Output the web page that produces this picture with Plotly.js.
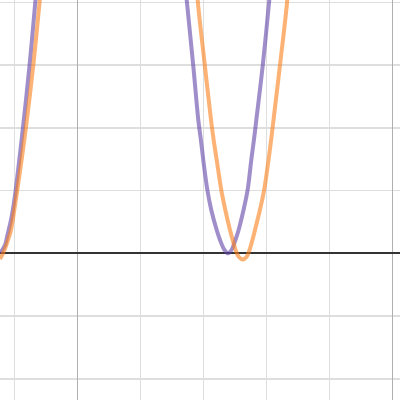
<!DOCTYPE html>
<html>
<head>
<meta charset="utf-8">
<script src="https://cdn.plot.ly/plotly-3.0.1.min.js"></script>
<style>html,body{margin:0;padding:0;background:#fff;}#chart{width:400px;height:400px;}</style>
</head>
<body>
<div id="chart"></div>
<script>
// Purple curve
const purpleX = [-1.232, -1.152, -1.113, -1.057, -1.016, -0.982, -0.866, -0.762, -0.668, -0.612, null,
                 1.676, 1.733, 1.836, 1.917, 1.958, 1.996, 2.061, 2.123, 2.209, 2.262, 2.333, 2.389,
                 2.444, 2.506, 2.557, 2.635, 2.700, 2.758, 2.800, 2.838, 2.941, 3.044, 3.101];
const purpleY = [0.0, 0.133, 0.292, 0.531, 0.770, 1.009, 2.014, 3.002, 4.038, 4.676, null,
                 4.676, 4.038, 3.002, 2.125, 1.806, 1.488, 1.009, 0.691, 0.372, 0.212, 0.053, 0.0,
                 0.053, 0.212, 0.372, 0.691, 1.009, 1.488, 1.806, 2.125, 3.002, 4.038, 4.676];
// Orange curve
const orangeX = [-1.232, -1.160, -1.105, -1.057, -1.005, -0.957, -0.819, -0.703, -0.600, -0.544, null,
                 1.865, 1.907, 2.020, 2.119, 2.161, 2.209, 2.282, 2.346, 2.420, 2.463, 2.509, 2.562, 2.622,
                 2.682, 2.730, 2.776, 2.817, 2.895, 2.962, 3.032, 3.073, 3.111, 3.214, 3.330, 3.373];
const orangeY = [-0.091, 0.053, 0.212, 0.372, 0.691, 1.009, 2.014, 3.002, 4.038, 4.676, null,
                 4.676, 4.038, 3.002, 2.125, 1.806, 1.488, 1.009, 0.691, 0.372, 0.212, 0.053, -0.059, -0.099,
                 -0.059, 0.053, 0.212, 0.372, 0.691, 1.009, 1.488, 1.806, 2.125, 3.002, 4.038, 4.676];

const traces = [
  {x: purpleX, y: purpleY, mode: 'lines', connectgaps: false,
   line: {color: 'rgba(96,66,166,0.6)', width: 4, shape: 'spline', smoothing: 1}, hoverinfo: 'skip'},
  {x: orangeX, y: orangeY, mode: 'lines', connectgaps: false,
   line: {color: 'rgba(250,126,25,0.6)', width: 4, shape: 'spline', smoothing: 1}, hoverinfo: 'skip'}
];

const layout = {
  width: 400, height: 400,
  margin: {l: 0, r: 0, t: 0, b: 0, pad: 0},
  paper_bgcolor: '#ffffff', plot_bgcolor: '#ffffff',
  showlegend: false,
  xaxis: {
    range: [-1.2317, 5.1196], showticklabels: false, ticks: '',
    showgrid: true, dtick: 5, tick0: 0, gridcolor: '#b0b0b0', gridwidth: 1.5,
    minor: {dtick: 1, tick0: 0, showgrid: true, gridcolor: '#dedede', gridwidth: 1.5},
    zeroline: false, showline: false, fixedrange: true
  },
  yaxis: {
    range: [-2.3383, 4.0383], showticklabels: false, ticks: '',
    showgrid: true, dtick: 5, tick0: 0, gridcolor: '#b0b0b0', gridwidth: 1.5,
    minor: {dtick: 1, tick0: 0, showgrid: true, gridcolor: '#dedede', gridwidth: 1.5},
    zeroline: true, zerolinecolor: '#333333', zerolinewidth: 2, showline: false, fixedrange: true
  }
};

Plotly.newPlot('chart', traces, layout, {displayModeBar: false, staticPlot: true});
</script>
</body>
</html>
